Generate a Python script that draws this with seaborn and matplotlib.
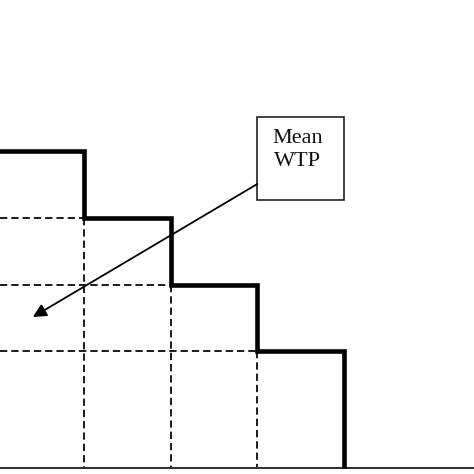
import numpy as np
import pandas as pd
import matplotlib.pyplot as plt
import seaborn as sns

# Step function of willingness to pay (in arbitrary units)
step_x = [0, 1, 2, 3, 4]
step_y = [4.75, 3.75, 2.75, 1.75, 0]

# Dashed guide lines at each bid level
guide_x = [1, 2, 3]
guide_y = [3.75, 2.75, 1.75]

label_text = "Mean\nWTP"

sns.set_style("white")
plt.rcParams['font.family'] = ['Liberation Serif', 'DejaVu Serif']

fig = plt.figure(figsize=(4.74, 4.74), dpi=100)
ax = fig.add_axes([0, 0, 1, 1])

x_left, x_right = 0.031, 5.50
y_bottom, y_top = -0.09, 7.02

# dashed lines first, so the thick step sits on top
for gx, gy in zip(guide_x, guide_y):
    ax.plot([x_left, gx], [gy, gy], color='black', lw=1.25,
            linestyle=(0, (4.2, 2.3)))
    ax.plot([gx, gx], [gy, 0], color='black', lw=1.25,
            linestyle=(0, (4.2, 2.3)))

# baseline
ax.axhline(0, color='#333333', lw=1.5)

df = pd.DataFrame({'x': step_x, 'y': step_y})
sns.lineplot(data=df, x='x', y='y', drawstyle='steps-post', color='black',
             lw=3.3, solid_joinstyle='miter', solid_capstyle='butt', ax=ax)

# label box
box = plt.Rectangle((3.0, 4.02), 1.0, 1.25, fill=False, edgecolor='#222222', lw=1.2)
ax.add_patch(box)
ax.text(3.46, 4.77, label_text, ha='center', va='center', fontsize=16,
        linespacing=1.3, color='#111111')

# arrow from box to the area under the curve
ax.annotate('', xy=(0.41, 2.265), xytext=(3.0, 4.26),
            arrowprops=dict(arrowstyle='-|>', color='black', lw=1.3,
                            mutation_scale=20, shrinkA=0, shrinkB=0))

ax.set_xlim(x_left, x_right)
ax.set_ylim(y_bottom, y_top)
ax.axis('off')

fig.savefig("out.png", dpi=100)
